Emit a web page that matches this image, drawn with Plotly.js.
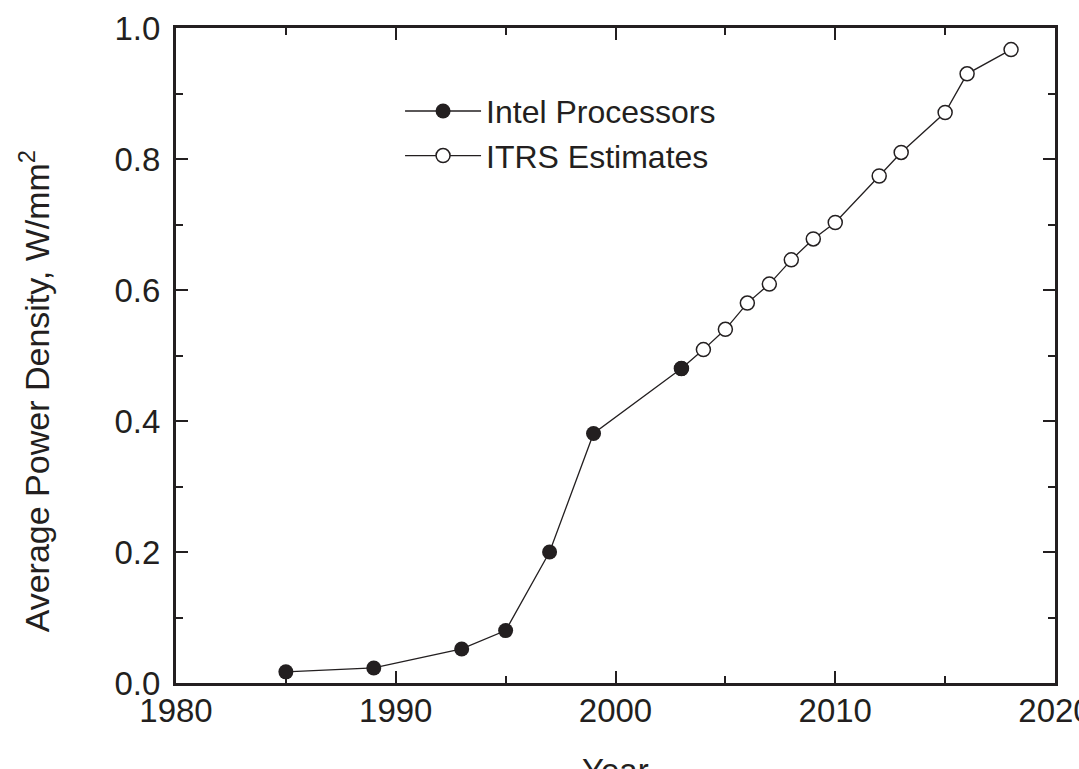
<!DOCTYPE html>
<html>
<head>
<meta charset="utf-8">
<script src="https://cdn.plot.ly/plotly-3.0.1.min.js"></script>
<style>html,body{margin:0;padding:0;background:#fff;}#chart{width:1079px;height:769px;}</style>
</head>
<body>
<div id="chart"></div>
<script>
// Data
const intelYears = [1985, 1989, 1993, 1995, 1997, 1999, 2003];
const intelDensity = [0.017, 0.023, 0.052, 0.080, 0.200, 0.381, 0.480];
const itrsYears = [2004, 2005, 2006, 2007, 2008, 2009, 2010, 2012, 2013, 2015, 2016, 2018];
const itrsDensity = [0.509, 0.540, 0.580, 0.609, 0.646, 0.678, 0.703, 0.774, 0.810, 0.871, 0.930, 0.967];
const seriesNames = ["Intel Processors", "ITRS Estimates"];
const xTitle = "Year";
const yTitle = "Average Power Density, W/mm<sup>2</sup>";

const ink = "#231f20";
const font = "Liberation Sans, Arial, Helvetica, sans-serif";

// The ITRS line joins on from the last Intel point
const itrsLineX = [intelYears[intelYears.length - 1]].concat(itrsYears);
const itrsLineY = [intelDensity[intelDensity.length - 1]].concat(itrsDensity);

const traces = [
  {
    x: itrsLineX, y: itrsLineY, name: seriesNames[1], type: "scatter", mode: "lines+markers",
    line: {color: ink, width: 1.3},
    marker: {symbol: "circle", size: 14, color: "#ffffff", line: {color: ink, width: 1.5}},
    legendrank: 2
  },
  {
    x: intelYears, y: intelDensity, name: seriesNames[0], type: "scatter", mode: "lines+markers",
    line: {color: ink, width: 1.3},
    marker: {symbol: "circle", size: 15, color: ink, line: {color: ink, width: 0}},
    legendrank: 1
  }
];

const axisCommon = {
  showgrid: false, zeroline: false,
  showline: true, linecolor: ink, linewidth: 3, mirror: "allticks",
  ticks: "inside", ticklen: 12, tickwidth: 2, tickcolor: ink,
  tickfont: {family: font, size: 33, color: ink},
  ticklabeloverflow: "allow",
  automargin: false
};

const layout = {
  width: 1079, height: 769,
  margin: {l: 176, r: 24, t: 28, b: 86},
  paper_bgcolor: "#ffffff", plot_bgcolor: "#ffffff",
  font: {family: font, color: ink},
  showlegend: true,
  legend: {
    x: 0.2549, y: 0.915, xanchor: "left", yanchor: "top",
    bgcolor: "rgba(0,0,0,0)", borderwidth: 0,
    font: {family: font, size: 32, color: ink},
    itemwidth: 76
  },
  xaxis: Object.assign({}, axisCommon, {
    range: [1980, 2020], tickmode: "linear", tick0: 1980, dtick: 10,
    minor: {dtick: 5, ticklen: 7, tickwidth: 2, tickcolor: ink, ticks: "inside"},
    ticklabelstandoff: -4
  }),
  yaxis: Object.assign({}, axisCommon, {
    range: [0, 1], tickmode: "linear", tick0: 0, dtick: 0.2, tickformat: ".1f",
    minor: {dtick: 0.1, ticklen: 7, tickwidth: 2, tickcolor: ink, ticks: "inside"},
    ticklabelstandoff: 6
  }),
  annotations: [
    {text: yTitle, xref: "paper", yref: "paper", x: -0.161, y: 0.446, xanchor: "center", yanchor: "middle",
     textangle: -90, showarrow: false, font: {family: font, size: 34, color: ink}},
    {text: xTitle, xref: "paper", yref: "paper", x: 0.5, y: -0.1023, xanchor: "center", yanchor: "top",
     showarrow: false, font: {family: font, size: 33, color: ink}}
  ]
};

Plotly.newPlot("chart", traces, layout, {displayModeBar: false, staticPlot: true});
</script>
</body>
</html>
